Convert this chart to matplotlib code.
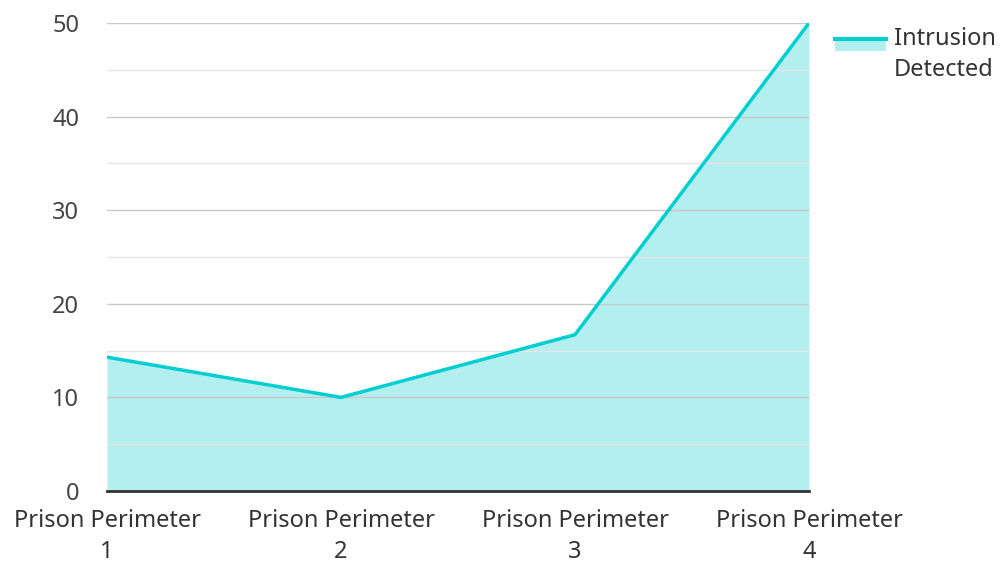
import matplotlib
matplotlib.use("Agg")
import matplotlib.pyplot as plt
from matplotlib.lines import Line2D
from matplotlib.patches import Rectangle
from matplotlib.legend_handler import HandlerBase

plt.rcParams['font.family'] = ['Noto Sans', 'DejaVu Sans']

# data
categories = ["Prison Perimeter\n1", "Prison Perimeter\n2", "Prison Perimeter\n3", "Prison Perimeter\n4"]
intrusions = [14.3, 10.0, 16.7, 50.0]
series_name = "Intrusion\nDetected"

line_color = "#00CED1"
fill_color = "#b2efee"
FS = 17


class AreaHandler(HandlerBase):
    # line level with the first text line, filled box just below it
    def create_artists(self, legend, orig, xd, yd, w, h, fontsize, trans):
        top = yd + h / 2 + 11.5
        rect = Rectangle((xd, top - 8.5), w, 8.5, facecolor=fill_color,
                         edgecolor='none', transform=trans)
        ln = Line2D([xd, xd + w], [top, top], color=line_color, lw=3, transform=trans)
        return [rect, ln]


fig = plt.figure(figsize=(10.01, 5.61), dpi=100)
ax = fig.add_axes([107 / 1001, 1 - 491 / 561, (809 - 107) / 1001, (491 - 23) / 561])

x = list(range(len(categories)))
ax.fill_between(x, intrusions, 0, color=fill_color, lw=0, zorder=1)
ax.plot(x, intrusions, color=line_color, lw=2.5, zorder=3, solid_joinstyle='miter')

ax.set_xlim(0, len(categories) - 1)
ax.set_ylim(0, 50)
ax.set_yticks(range(0, 51, 10))
ax.set_yticks(range(5, 50, 10), minor=True)
ax.grid(axis='y', which='major', color='#c8c8c8', lw=1, zorder=2)
ax.grid(axis='y', which='minor', color='#e6e6e6', lw=1, zorder=2)
ax.set_axisbelow(False)

ax.set_xticks(x)
ax.set_xticklabels(categories, fontsize=FS, color='#333333', linespacing=1.38)
ax.tick_params(axis='y', labelsize=FS, labelcolor='#444444', length=0, pad=20)
ax.tick_params(axis='x', length=0, pad=13)
ax.tick_params(axis='y', which='minor', length=0)

for s in ['top', 'right', 'left']:
    ax.spines[s].set_visible(False)
ax.spines['bottom'].set_color('#333333')
ax.spines['bottom'].set_linewidth(2)
ax.spines['bottom'].set_zorder(4)

leg = fig.legend([object()], [series_name], handler_map={object: AreaHandler()},
                 loc='upper left', bbox_to_anchor=(816 / 1001, 1 - 8 / 561),
                 frameon=False, fontsize=FS, handlelength=2.15, handletextpad=0.35,
                 borderpad=0.3)
for t in leg.get_texts():
    t.set_color('#333333')
    t.set_linespacing(1.4)

fig.savefig("out.png", dpi=100)
